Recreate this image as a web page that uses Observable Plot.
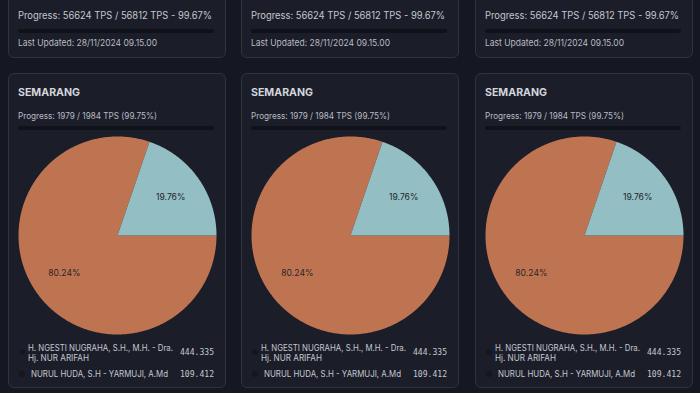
<!DOCTYPE html>
<html><head><meta charset="utf-8">
<script src="https://cdn.jsdelivr.net/npm/d3@7"></script>
<script src="https://cdn.jsdelivr.net/npm/@observablehq/plot@0.6"></script>
<style>
body{margin:0;background:#151821;width:700px;height:393px;overflow:hidden;position:relative;font-family:Inter,"Noto Sans",sans-serif;color:#c5c7cf}
.panel{position:absolute;box-sizing:border-box;background:#1b1e29;border:1px solid #2f3241;border-radius:6px}
.t{position:absolute;white-space:nowrap;transform-origin:0 50%}
.bar{position:absolute;height:4px;border-radius:2px;background:#10121a}
.dot{position:absolute;width:6px;height:6px;border-radius:50%;background:#141620}
.mono{font-family:"DejaVu Sans Mono",monospace}
</style></head><body>
<script>
const columns = [0, 1, 2];
const provinceProgress = "Progress: 56624 TPS / 56812 TPS - 99.67%";
const lastUpdated = "Last Updated: 28/11/2024 09.15.00";
const regionName = "SEMARANG";
const regionProgress = "Progress: 1979 / 1984 TPS (99.75%)";
const candidates = ["H. NGESTI NUGRAHA, S.H., M.H. - Dra. Hj. NUR ARIFAH", "NURUL HUDA, S.H - YARMUJI, A.Md"];
const votes = [444335, 109412];
const voteLabels = ["444.335", "109.412"];
const sliceColors = ["#bf7451", "#93bfc4"];

function el(cls, css, text, fitWidth) {
  const d = document.createElement("div");
  d.className = cls;
  Object.assign(d.style, css);
  if (text != null) d.textContent = text;
  document.body.appendChild(d);
  if (fitWidth) {
    const w = d.getBoundingClientRect().width;
    d.style.transform = `scaleX(${fitWidth / w})`;
  }
  return d;
}

const total = d3.sum(votes);
const arcs = d3.pie().sort(null).startAngle(Math.PI / 2).endAngle(Math.PI / 2 + 2 * Math.PI)(votes);
const polys = [];
arcs.forEach((a, i) => {
  polys.push({name: candidates[i], x: 0, y: 0});
  const n = Math.max(2, Math.ceil((a.endAngle - a.startAngle) / 0.01));
  for (let k = 0; k <= n; k++) {
    const t = a.startAngle + (a.endAngle - a.startAngle) * k / n;
    polys.push({name: candidates[i], x: Math.sin(t), y: Math.cos(t)});
  }
  polys.push({name: candidates[i], x: 0, y: 0});
});
const labels = arcs.map((a, i) => {
  const m = (a.startAngle + a.endAngle) / 2;
  return {name: candidates[i], x: 0.66 * Math.sin(m), y: 0.66 * Math.cos(m), text: (votes[i] / total * 100).toFixed(2) + "%"};
});

const nameWords = candidates[0].split(" ");
const nameLine1 = nameWords.slice(0, 7).join(" ");
const nameLine2 = nameWords.slice(7).join(" ");

columns.forEach(c => {
  const o = 8 + c * 233.3;
  // top panel
  el("panel", {left: o + "px", top: "-40px", width: "218px", height: "98px"});
  el("t", {left: o + 10 + "px", top: "9px", fontSize: "9.8px", lineHeight: "14px"}, provinceProgress, 194);
  el("bar", {left: o + 10 + "px", top: "29px", width: "196px"});
  el("t", {left: o + 10 + "px", top: "37px", fontSize: "9.2px", lineHeight: "12px", color: "#b9bbc3"}, lastUpdated, 139);
  // region panel
  el("panel", {left: o + "px", top: "73px", width: "218px", height: "315px"});
  el("t", {left: o + 10 + "px", top: "86px", fontSize: "10.6px", lineHeight: "14px", fontWeight: "700", color: "#d3d5dc"}, regionName, 62);
  el("t", {left: o + 10 + "px", top: "110px", fontSize: "9px", lineHeight: "12px", color: "#b9bbc3"}, regionProgress, 139);
  el("bar", {left: o + 10 + "px", top: "126px", width: "196px"});
  const chart = Plot.plot({
    width: 198, height: 198, margin: 0,
    style: {background: "transparent", overflow: "visible"},
    x: {domain: [-1, 1], axis: null},
    y: {domain: [-1, 1], axis: null},
    color: {domain: candidates, range: sliceColors},
    marks: [
      Plot.line(polys, {x: "x", y: "y", z: "name", fill: "name", stroke: "none"}),
      Plot.text(labels, {x: "x", y: "y", text: "text", fill: "#26262a", fontSize: 8.6, fontFamily: "Inter"})
    ]
  });
  chart.style.position = "absolute";
  chart.style.left = (o + 10) + "px";
  chart.style.top = "136px";
  document.body.appendChild(chart);
  // legend
  el("dot", {left: o + 11 + "px", top: "349px"});
  el("t", {left: o + 20 + "px", top: "342px", fontSize: "9px", lineHeight: "12px"}, nameLine1, 145);
  el("t", {left: o + 20 + "px", top: "352px", fontSize: "9px", lineHeight: "12px"}, nameLine2, 61);
  el("t mono", {left: o + 172 + "px", top: "346px", fontSize: "9px", lineHeight: "12px"}, voteLabels[0], 34);
  el("dot", {left: o + 11 + "px", top: "371px"});
  el("t", {left: o + 23 + "px", top: "368px", fontSize: "9px", lineHeight: "12px"}, candidates[1], 137);
  el("t mono", {left: o + 172 + "px", top: "368px", fontSize: "9px", lineHeight: "12px"}, voteLabels[1], 34);
});
</script>
</body></html>
